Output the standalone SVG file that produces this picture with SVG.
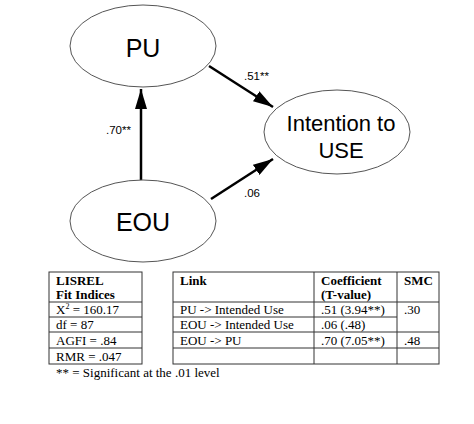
<svg xmlns="http://www.w3.org/2000/svg" width="474" height="424" viewBox="0 0 474 424">
<style>
.node{fill:#fff;stroke:#555;stroke-width:1}
.lbl{font-family:"Liberation Sans",Arial,sans-serif;fill:#000;text-anchor:middle}
.big{font-size:25px}
.mid{font-size:22px}
.small{font-family:"Liberation Sans",Arial,sans-serif;font-size:11.5px;fill:#000}
.edge{stroke:#000;stroke-width:2.5;fill:none;marker-end:url(#ah)}
.tb{fill:none;stroke:#333;stroke-width:1}
.t{font-family:"Liberation Serif","Times New Roman",serif;font-size:13px;fill:#000}
.b{font-weight:bold}
</style>
<defs>
<marker id="ah" markerUnits="userSpaceOnUse" markerWidth="20" markerHeight="12" refX="20" refY="6" orient="auto" viewBox="0 0 20 12">
<path d="M0,0 L20,6 L0,12 z" fill="#000"/>
</marker>
</defs>
<rect width="474" height="424" fill="#fff"/>
<g id="connectors">
<line class="edge" x1="141" y1="180" x2="141" y2="89"/>
<line class="edge" x1="209" y1="66" x2="273" y2="107"/>
<line class="edge" x1="211" y1="199" x2="273" y2="159"/>
<text class="small" x="106" y="134">.70**</text>
<text class="small" x="244" y="80">.51**</text>
<text class="small" x="244" y="197">.06</text>
</g>
<g id="PU">
<ellipse class="node" cx="143" cy="46" rx="73" ry="41"/>
<text class="lbl big" x="143" y="57">PU</text>
</g>
<g id="EOU">
<ellipse class="node" cx="143" cy="221" rx="73" ry="41"/>
<text class="lbl big" x="143" y="231">EOU</text>
</g>
<g id="Intention">
<ellipse class="node" cx="337" cy="132" rx="73" ry="42"/>
<text class="lbl mid" x="341" y="131">Intention to</text>
<text class="lbl mid" x="341" y="158">USE</text>
</g>
<g id="fit-table">
<rect class="tb" x="49" y="272" width="93" height="92"/>
<line class="tb" x1="49" y1="302" x2="142" y2="302"/>
<line class="tb" x1="49" y1="317" x2="142" y2="317"/>
<line class="tb" x1="49" y1="332" x2="142" y2="332"/>
<line class="tb" x1="49" y1="348" x2="142" y2="348"/>
<text class="t b" x="56" y="285">LISREL</text>
<text class="t b" x="56" y="299">Fit Indices</text>
<text class="t" x="56" y="314">X<tspan font-size="8" dy="-5">2</tspan><tspan dy="5"> = 160.17</tspan></text>
<text class="t" x="56" y="329">df = 87</text>
<text class="t" x="56" y="345">AGFI = .84</text>
<text class="t" x="56" y="361">RMR = .047</text>
</g>
<g id="link-table">
<rect class="tb" x="173" y="272" width="266" height="92"/>
<line class="tb" x1="314" y1="272" x2="314" y2="364"/>
<line class="tb" x1="397" y1="272" x2="397" y2="364"/>
<line class="tb" x1="173" y1="302" x2="439" y2="302"/>
<line class="tb" x1="173" y1="317" x2="397" y2="317"/>
<line class="tb" x1="173" y1="332" x2="439" y2="332"/>
<line class="tb" x1="173" y1="348" x2="439" y2="348"/>
<text class="t b" x="180" y="285">Link</text>
<text class="t b" x="321" y="285">Coefficient</text>
<text class="t b" x="321" y="299">(T-value)</text>
<text class="t b" x="404" y="285">SMC</text>
<text class="t" x="180" y="314">PU -&gt; Intended Use</text>
<text class="t" x="321" y="314">.51 (3.94**)</text>
<text class="t" x="404" y="314">.30</text>
<text class="t" x="180" y="329">EOU -&gt; Intended Use</text>
<text class="t" x="321" y="329">.06 (.48)</text>
<text class="t" x="180" y="345">EOU -&gt; PU</text>
<text class="t" x="321" y="345">.70 (7.05**)</text>
<text class="t" x="404" y="345">.48</text>
</g>
<text class="t" x="56" y="377">** = Significant at the .01 level</text>
</svg>
